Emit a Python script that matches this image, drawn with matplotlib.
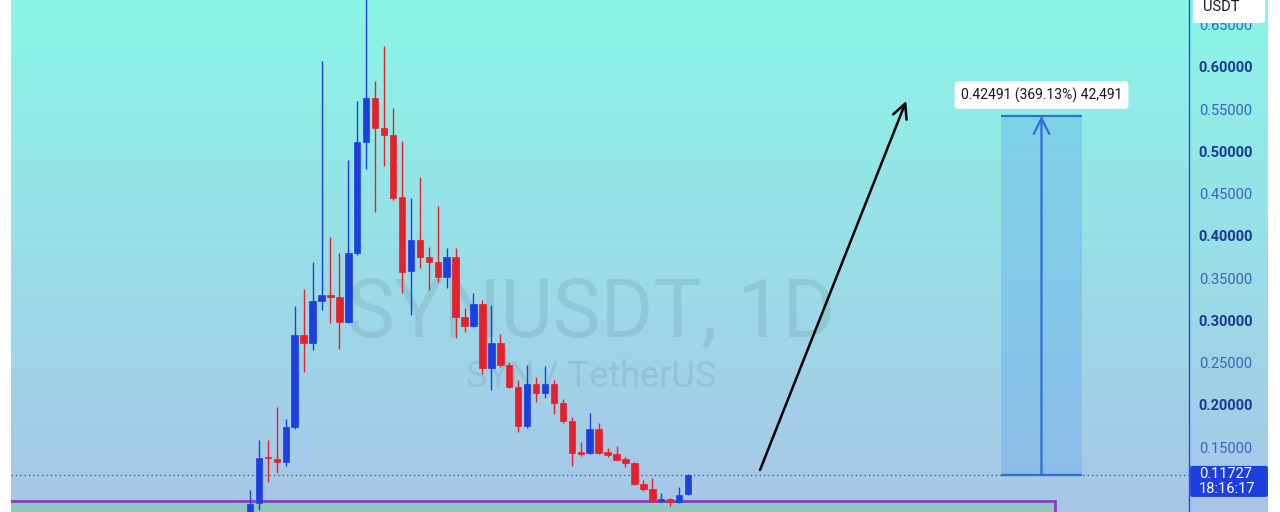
import numpy as np
import matplotlib
matplotlib.use("Agg")
import matplotlib.pyplot as plt
import matplotlib.transforms as mtransforms
from matplotlib.patches import Rectangle, FancyBboxPatch

plt.rcParams['font.family'] = ['Roboto', 'DejaVu Sans']

############## Data: SYN/USDT daily candles ##############

opens  = [0.060, 0.084, 0.138, 0.136, 0.133, 0.174, 0.283, 0.273, 0.323, 0.330,
          0.328, 0.298, 0.380, 0.511, 0.563, 0.528, 0.519, 0.446, 0.359, 0.395,
          0.375, 0.369, 0.352, 0.375, 0.304, 0.294, 0.320, 0.244, 0.273, 0.247,
          0.221, 0.175, 0.225, 0.214, 0.225, 0.202, 0.181, 0.144, 0.143, 0.172,
          0.144, 0.142, 0.136, 0.131, 0.107, 0.101, 0.086, 0.089, 0.085, 0.095]
highs  = [0.099, 0.158, 0.158, 0.198, 0.183, 0.317, 0.337, 0.369, 0.607, 0.399,
          0.380, 0.490, 0.560, 0.700, 0.583, 0.625, 0.552, 0.512, 0.445, 0.470,
          0.387, 0.436, 0.386, 0.386, 0.315, 0.333, 0.324, 0.318, 0.284, 0.251,
          0.230, 0.247, 0.233, 0.246, 0.230, 0.207, 0.186, 0.156, 0.191, 0.179,
          0.149, 0.152, 0.138, 0.132, 0.111, 0.114, 0.096, 0.090, 0.103, 0.118]
lows   = [0.055, 0.076, 0.109, 0.120, 0.128, 0.172, 0.239, 0.265, 0.312, 0.297,
          0.266, 0.297, 0.377, 0.479, 0.428, 0.483, 0.443, 0.333, 0.307, 0.362,
          0.336, 0.346, 0.339, 0.279, 0.286, 0.292, 0.237, 0.218, 0.245, 0.220,
          0.168, 0.173, 0.204, 0.208, 0.189, 0.179, 0.128, 0.140, 0.142, 0.142,
          0.139, 0.134, 0.127, 0.105, 0.098, 0.085, 0.085, 0.080, 0.084, 0.094]
closes = [0.083, 0.137, 0.137, 0.133, 0.174, 0.283, 0.273, 0.323, 0.330, 0.328,
          0.298, 0.380, 0.511, 0.563, 0.528, 0.520, 0.445, 0.357, 0.395, 0.375,
          0.369, 0.352, 0.375, 0.304, 0.294, 0.320, 0.244, 0.273, 0.247, 0.221,
          0.175, 0.225, 0.214, 0.225, 0.202, 0.181, 0.143, 0.142, 0.172, 0.143,
          0.141, 0.135, 0.131, 0.107, 0.101, 0.086, 0.089, 0.085, 0.094, 0.11727]

price_ticks = [0.15, 0.20, 0.25, 0.30, 0.35, 0.40, 0.45, 0.50, 0.55, 0.60, 0.65]
last_time = "18:16:17"
support_top = 0.0864
proj_start, proj_end = 84.0, 93.06      # bar index range of the price range tool
proj_change = 0.42491
arrow_from = (57.05, 0.1231)
arrow_to = (73.4, 0.5598)

############## Figure ##############

W, H = 1280, 512
fig = plt.figure(figsize=(W / 100, H / 100), dpi=100, facecolor='white')

# gradient background behind chart + price scale
bg = fig.add_axes([11 / W, 0, (1268 - 11) / W, 1])
grad = np.linspace(0, 1, 256)[:, None]
top_c = np.array([138, 246, 230]) / 255
bot_c = np.array([168, 198, 232]) / 255
img = top_c[None, None, :] * (1 - grad[:, :, None]) + bot_c[None, None, :] * grad[:, :, None]
bg.imshow(img, aspect='auto', extent=[0, 1, 0, 1])
bg.set_axis_off()

ax = fig.add_axes([11 / W, 0, (1189 - 11) / W, 1])
ax.patch.set_visible(False)
ax.set_xlim(-26.73, 105.03)
ax.set_ylim(0.07337, 0.67929)

x = np.arange(len(opens))
up_col = '#1e3fe0'
dn_col = '#e8202c'
cols = [up_col if c >= o else dn_col for o, c in zip(opens, closes)]
body_bot = [min(o, c) for o, c in zip(opens, closes)]
body_h = [max(abs(c - o), 0.0016) for o, c in zip(opens, closes)]

ax.vlines(x, lows, highs, colors=cols, linewidth=1.0, zorder=4)
ax.bar(x, body_h, bottom=body_bot, width=0.72, color=cols, edgecolor=cols,
       linewidth=0.5, zorder=5)

# support zone
ax.add_patch(Rectangle((-40, 0), 90.04 + 40, support_top, facecolor='#8fc9c0',
                       edgecolor='#8a3cc4', linewidth=2, zorder=2))

# last price line
last = closes[-1]
ax.axhline(last, color='#2c4a9a', linestyle=(0, (1, 2.5)), linewidth=0.9, zorder=3)

# price range tool
ax.add_patch(Rectangle((proj_start, last), proj_end - proj_start, proj_change,
                       facecolor='#5aa6ec', alpha=0.35, edgecolor='none', zorder=3))
ax.hlines([last, last + proj_change], proj_start, proj_end, colors='#2f6fd6',
          linewidth=1.6, zorder=4)
mid = (proj_start + proj_end) / 2
ax.annotate('', xy=(mid, last + proj_change), xytext=(mid, last),
            arrowprops=dict(arrowstyle='->', color='#2f6fd6', lw=1.6,
                            mutation_scale=28, shrinkA=0, shrinkB=0), zorder=4)
ax.text(mid, 0.5669, "0.42491 (369.13%) 42,491", ha='center', va='center',
        fontsize=10, color='#131722', zorder=6,
        bbox=dict(boxstyle='round,pad=0.45,rounding_size=0.3', facecolor='white',
                  edgecolor='none'))

# projection arrow
ax.annotate('', xy=arrow_to, xytext=arrow_from,
            arrowprops=dict(arrowstyle='->', color='black', lw=1.8,
                            mutation_scale=26, shrinkA=0, shrinkB=0), zorder=6)

# watermark
ax.text(0.4924, 0.3848, "SYNUSDT, 1D", transform=ax.transAxes, ha='center',
        va='center', fontsize=58, color='#4f6a78', alpha=0.15, zorder=1)
ax.text(0.4924, 0.2637, "SYN / TetherUS", transform=ax.transAxes, ha='center',
        va='center', fontsize=26, color='#4f6a78', alpha=0.15, zorder=1)

# price scale on the right
ax.yaxis.tick_right()
ax.set_yticks(price_ticks)
ax.set_yticklabels(["%.5f" % p for p in price_ticks])
ax.tick_params(axis='y', length=0, pad=7, labelsize=10.5)
for p, lab in zip(price_ticks, ax.get_yticklabels()):
    if round(p * 100) % 10 == 0:
        lab.set_fontweight('bold')
        lab.set_color('#1b3a96')
    else:
        lab.set_color('#3a62c2')
ax.set_xticks([])
for s in ['top', 'left', 'bottom']:
    ax.spines[s].set_visible(False)
ax.spines['right'].set_color('#2a4fd0')
ax.spines['right'].set_linewidth(1.0)

# last price label
blend = mtransforms.blended_transform_factory(ax.transAxes, ax.transData)
lab_top = last + 9 * (0.05 / 42.25)
lab_h = 31 * (0.05 / 42.25)
ax.add_patch(FancyBboxPatch((1.001, lab_top - lab_h), 0.066, lab_h, transform=blend,
                            boxstyle='round,pad=0,rounding_size=0.002',
                            facecolor='#1d3fe0', edgecolor='none', clip_on=False,
                            zorder=7))
ax.text(1.0085, lab_top - lab_h / 2, "%.5f\n%s" % (last, last_time), transform=blend,
        ha='left', va='center', fontsize=10.5, color='white', linespacing=1.05,
        zorder=8, clip_on=False)

# currency box top right (hides the upper half of the top price label)
fig.patches.append(FancyBboxPatch((1193 / W, (H - 23) / H), 72 / W, 33 / H,
                                  transform=fig.transFigure,
                                  boxstyle='round,pad=0,rounding_size=0.004',
                                  facecolor='white', edgecolor='none', zorder=10))
fig.text(1203 / W, (H - 7) / H, "USDT", ha='left', va='center', fontsize=10.5,
         color='#131722', zorder=11)

fig.savefig('out.png', dpi=100, facecolor='white')
